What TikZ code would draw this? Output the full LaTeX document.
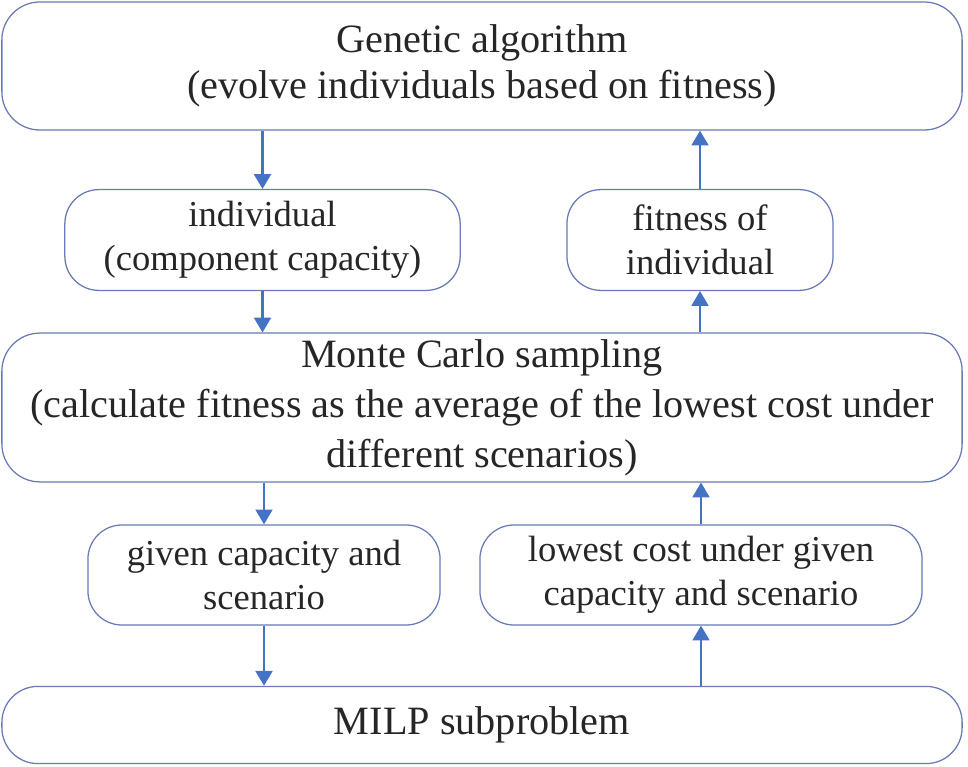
\documentclass[tikz,border=0pt]{standalone}
\usepackage{fontspec}
\setmainfont{LiberationSerif}[Extension=.ttf, UprightFont=*-Regular,
  BoldFont=*-Bold, ItalicFont=*-Italic, BoldItalicFont=*-BoldItalic]
\usetikzlibrary{arrows.meta,positioning}
\definecolor{boxline}{RGB}{105,122,180}
\definecolor{flowblue}{RGB}{68,114,196}

\begin{document}
\begin{tikzpicture}[x=0.025cm, y=-0.025cm,
    stage/.style={draw=boxline, line width=0.9pt, rounded corners=0.95cm,
      inner sep=0pt, align=center, text=black!85,
      font=\fontsize{28.6}{32.7}\selectfont},
    sub/.style={stage, rounded corners=0.85cm,
      font=\fontsize{26}{31.3}\selectfont},
    flow/.style={draw=flowblue, line width=1.6pt,
      -{Triangle[width=12pt, length=10.5pt]}}]
  \useasboundingbox (0,0) rectangle (968,767);
  % main stages
  \node[stage, minimum width=24cm, minimum height=3.2cm] (gen) at (482,66)
    {Genetic algorithm\\(evolve individuals based on fitness)};
  \node[stage, minimum width=24cm, minimum height=3.72cm,
        font=\fontsize{28.6}{35.6}\selectfont] (mc) at (482,407.5)
    {Monte Carlo sampling\\(calculate fitness as the average of the lowest cost under\\different scenarios)};
  \node[stage, minimum width=24cm, minimum height=1.93cm, rounded corners=0.9cm] (milp) at (482,725)
    {MILP subproblem};
  % exchanged quantities
  \node[sub, minimum width=9.88cm, minimum height=2.52cm] (indiv) at (262.5,240)
    {individual\\(component capacity)};
  \node[sub, minimum width=6.65cm, minimum height=2.52cm] (fit) at (700,240)
    {fitness of\\individual};
  \node[sub, minimum width=8.8cm, minimum height=2.5cm] (given) at (264,575)
    {given capacity and\\scenario};
  \node[sub, minimum width=11.05cm, minimum height=2.5cm] (lowest) at (701,575)
    {lowest cost under given\\capacity and scenario};
  % downward: capacity and scenario
  \foreach \a/\b/\c in {gen/indiv/indiv, indiv/mc/indiv, mc/given/given, given/milp/given}
    \draw[flow] (\a.south -| \c) -- (\b.north -| \c);
  % upward: cost and fitness
  \foreach \a/\b/\c in {milp/lowest/lowest, lowest/mc/lowest, mc/fit/fit, fit/gen/fit}
    \draw[flow] (\a.north -| \c) -- (\b.south -| \c);
\end{tikzpicture}
\end{document}
